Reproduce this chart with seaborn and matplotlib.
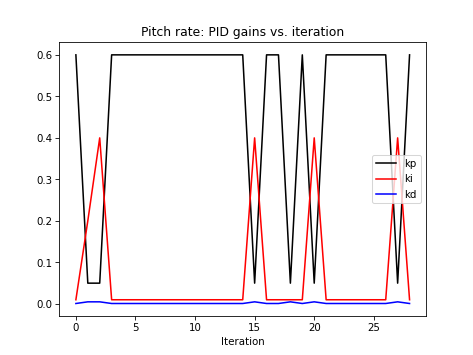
import numpy as np, pandas as pd
import seaborn as sns
import matplotlib.pyplot as plt
plt.switch_backend('agg')

# gains per iteration
iteration = list(range(29))
kp = [0.6, 0.05, 0.05, 0.6, 0.6, 0.6, 0.6, 0.6, 0.6, 0.6, 0.6, 0.6, 0.6, 0.6, 0.6,
      0.05, 0.6, 0.6, 0.05, 0.6, 0.05, 0.6, 0.6, 0.6, 0.6, 0.6, 0.6, 0.05, 0.6]
ki = [0.01, 0.2, 0.4, 0.01, 0.01, 0.01, 0.01, 0.01, 0.01, 0.01, 0.01, 0.01, 0.01, 0.01, 0.01,
      0.4, 0.01, 0.01, 0.01, 0.01, 0.4, 0.01, 0.01, 0.01, 0.01, 0.01, 0.01, 0.4, 0.01]
kd = [0.001, 0.005, 0.005, 0.001, 0.001, 0.001, 0.001, 0.001, 0.001, 0.001, 0.001, 0.001, 0.001, 0.001, 0.001,
      0.005, 0.001, 0.001, 0.005, 0.001, 0.005, 0.001, 0.001, 0.001, 0.001, 0.001, 0.001, 0.005, 0.001]

df = pd.DataFrame({'Iteration': iteration, 'kp': kp, 'ki': ki, 'kd': kd})
long_df = df.melt(id_vars='Iteration', var_name='gain', value_name='value')

fig, ax = plt.subplots(figsize=(6.4, 4.8), dpi=74)
sns.lineplot(data=long_df, x='Iteration', y='value', hue='gain',
             palette={'kp': 'black', 'ki': 'red', 'kd': 'blue'}, ax=ax)
ax.set_ylabel('')
ax.set_title('Pitch rate: PID gains vs. iteration')
ax.legend(loc='center right')
plt.savefig('out.png', dpi=74)
plt.close()
